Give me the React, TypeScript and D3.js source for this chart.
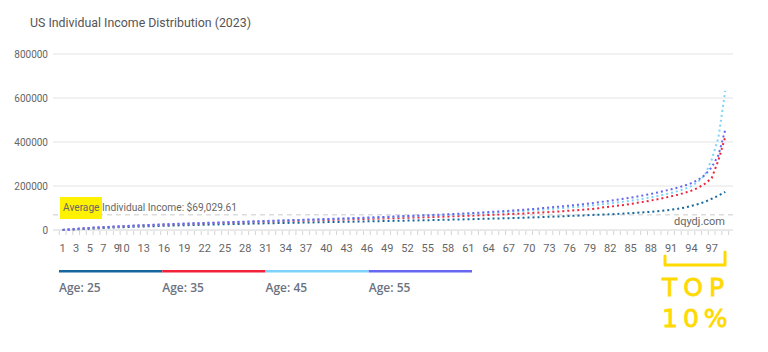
import React from "react";
import * as d3 from "d3";

const percentiles: number[] = Array.from({ length: 99 }, (_, i) => i + 1);

const xTickLabels: number[] = [1, 3, 5, 7, 9, 10, 13, 16, 19, 22, 25, 28, 31, 34, 37, 40, 43, 46, 49, 52, 55, 58, 61, 64, 67, 70, 73, 76, 79, 82, 85, 88, 91, 94, 97];

const yTicks: number[] = [0, 200000, 400000, 600000, 800000];

const age25: number[] = [
  300, 1500, 3000, 4500, 6000, 7500, 9000, 10500, 12000, 13000,
  14000, 15000, 16000, 17000, 18000, 19000, 20000, 20800, 21600, 22400,
  23200, 24000, 24800, 25500, 26200, 27000, 27700, 28400, 29000, 29700,
  30300, 31000, 31600, 32200, 32800, 33400, 34000, 34600, 35200, 35800,
  36300, 36900, 37500, 38000, 38600, 39200, 39800, 40300, 40900, 41500,
  42100, 42700, 43300, 44000, 44600, 45300, 46000, 46700, 47400, 48100,
  48900, 49700, 50500, 51300, 52100, 53000, 53900, 54800, 55800, 56800,
  57800, 58900, 60000, 61200, 62400, 63700, 65000, 66400, 67900, 69500,
  70000, 71500, 73000, 74800, 76600, 78500, 80600, 82800, 85500, 88500,
  92000, 96500, 102000, 110000, 118000, 128000, 142000, 156000, 173000,
];

const age35: number[] = [
  400, 2300, 4600, 6900, 8900, 10800, 12400, 13900, 15300, 16700,
  18000, 19300, 20600, 21800, 23000, 24100, 25200, 26300, 27300, 28300,
  29300, 30300, 31200, 32100, 33000, 33900, 34800, 35700, 36600, 37500,
  38300, 39100, 39900, 40700, 41500, 42300, 43100, 43900, 44700, 45500,
  46300, 47100, 47900, 48700, 49500, 50300, 51100, 52000, 52900, 53800,
  54700, 55600, 56500, 57400, 58400, 59400, 60400, 61400, 62400, 63500,
  64600, 65800, 67000, 68200, 69500, 70800, 72200, 73600, 75100, 76700,
  78300, 80000, 81800, 83700, 85700, 87800, 90000, 92300, 94800, 97400,
  103000, 106500, 110000, 114000, 118500, 123500, 128500, 134000, 140000, 146500,
  153000, 160500, 169000, 179000, 192000, 210000, 236000, 318000, 423000,
];

const age45: number[] = [
  400, 2400, 4800, 7200, 9200, 11200, 12800, 14300, 15800, 17200,
  18600, 20000, 21400, 22600, 23800, 25000, 26200, 27300, 28400, 29400,
  30400, 31400, 32400, 33400, 34400, 35400, 36300, 37200, 38100, 39000,
  40000, 41000, 42000, 43000, 44000, 45000, 46000, 47000, 48000, 49000,
  50000, 51000, 52000, 53000, 54000, 55000, 56000, 57000, 58200, 59400,
  60600, 61800, 63000, 64200, 65400, 66600, 67800, 69000, 70300, 71600,
  73000, 74500, 76000, 77600, 79200, 80900, 82600, 84400, 86300, 88300,
  90400, 92600, 94900, 97300, 99800, 102400, 105100, 108000, 111000, 114200,
  117600, 121200, 125000, 129000, 133300, 138000, 143000, 148500, 154500, 161000,
  168500, 177000, 187000, 199000, 220000, 250000, 320000, 420000, 632000,
];

const age55: number[] = [
  400, 2500, 5000, 7500, 9500, 11500, 13000, 14500, 16000, 17500,
  19000, 20500, 22000, 23200, 24400, 25600, 26800, 28000, 29000, 30000,
  31000, 32000, 33000, 34000, 35000, 36000, 37000, 38000, 39000, 40000,
  41000, 42000, 43000, 44000, 45000, 46000, 47000, 48000, 49000, 50000,
  51000, 52000, 53000, 54000, 55200, 56400, 57600, 58800, 60000, 61400,
  62800, 64000, 65200, 66400, 67600, 68900, 70200, 71500, 72900, 74300,
  76000, 77800, 79600, 81400, 83300, 85200, 87200, 89300, 91500, 94000,
  96500, 99500, 102000, 105000, 108000, 111000, 114000, 117500, 121000, 125000,
  129000, 133000, 137500, 142000, 147000, 152500, 158000, 164000, 170500, 177500,
  185000, 193000, 202000, 213000, 228000, 250000, 285000, 340000, 455000,
];

const seriesNames: string[] = ["Age: 25", "Age: 35", "Age: 45", "Age: 55"];
const seriesColors: string[] = ["#17679f", "#f0233a", "#7dd3fc", "#6767f2"];
const seriesValues: number[][] = [age25, age35, age45, age55];

const averageIncome = 69029.61;

const W = 768;
const H = 352;
const plotLeft = 53;
const plotRight = 733;
const plotTop = 54;
const plotBottom = 230;

export default function App() {
  const x = d3.scaleBand<number>().domain(percentiles).range([59.3, 728.6]).padding(0);
  const bw = x.bandwidth();
  const cx = (p: number) => (x(p) as number) + bw / 2;
  const y = d3.scaleLinear().domain([0, 800000]).range([plotBottom, plotTop]);

  const line = d3
    .line<number>()
    .x((_, i) => cx(percentiles[i]))
    .y((v) => y(v));

  const tickXs = percentiles.map((p) => x(p) as number).concat([(x(99) as number) + bw]);

  const legendX = d3.scaleBand<string>().domain(seriesNames).range([59, 472]).padding(0);

  const font = "Roboto, 'Open Sans', sans-serif";
  const yAvg = y(averageIncome);

  return (
    <svg
      width={W}
      height={H}
      style={{ position: "absolute", left: 0, top: 0, background: "#fff" }}
      fontFamily={font}
    >
      <text x={30} y={27} fontSize={13.5} fill="#555" textLength={221} lengthAdjust="spacingAndGlyphs">
        US Individual Income Distribution (2023)
      </text>

      {yTicks.map((t) =>
        t === 0 ? null : (
          <line key={"g" + t} x1={plotLeft} x2={plotRight} y1={y(t)} y2={y(t)} stroke="#e3e3e3" strokeWidth={1} />
        )
      )}
      {yTicks.map((t) => (
        <text key={"yl" + t} x={48} y={y(t)} dy="0.35em" textAnchor="end" fontSize={10} fill="#666">
          {t}
        </text>
      ))}

      {/* x axis */}
      <line x1={plotLeft} x2={plotRight} y1={plotBottom} y2={plotBottom} stroke="#d4d4d4" strokeWidth={1} />
      {tickXs.map((tx, i) => (
        <line key={"t" + i} x1={tx} x2={tx} y1={plotBottom + 1} y2={plotBottom + 5} stroke="#d4d4d4" strokeWidth={1} />
      ))}
      {xTickLabels.map((p) => (
        <text key={"xl" + p} x={cx(p)} y={248} dy="0.35em" textAnchor="middle" fontSize={11} fill="#666">
          {p}
        </text>
      ))}

      {/* average line */}
      <line x1={plotLeft} x2={plotRight} y1={yAvg} y2={yAvg} stroke="#dcdcdc" strokeWidth={1.5} strokeDasharray="5 4" />
      <rect x={60} y={197} width={42} height={22} fill="#fff200" />
      <text x={63} y={207} dy="0.35em" fontSize={11} fill="#666" textLength={174} lengthAdjust="spacingAndGlyphs">
        Average Individual Income: $69,029.61
      </text>
      <text x={725} y={221} dy="0.35em" textAnchor="end" fontSize={11} fill="#666">
        dqydj.com
      </text>

      {/* series */}
      {seriesValues.map((vals, si) => (
        <path
          key={"s" + si}
          d={line(vals) || ""}
          fill="none"
          stroke={seriesColors[si]}
          strokeWidth={2}
          strokeDasharray="2 3"
        />
      ))}

      {/* legend */}
      {seriesNames.map((n, i) => (
        <g key={"lg" + i}>
          <rect x={legendX(n) as number} y={270} width={legendX.bandwidth()} height={2.5} fill={seriesColors[i]} />
          <text
            x={legendX(n) as number}
            y={288}
            dy="0.35em"
            fontSize={12}
            fontWeight={600}
            fill="#6b7280"
            fontFamily="'Open Sans', sans-serif"
          >
            {n}
          </text>
        </g>
      ))}

      {/* hand-drawn annotation */}
      <path
        d="M665,256 L665,265 L725,265 L725,252"
        fill="none"
        stroke="#ffd900"
        strokeWidth={3}
        strokeLinecap="round"
        strokeLinejoin="round"
      />
      <text
        x={662}
        y={296}
        fontSize={25}
        fill="#ffd900"
        stroke="#ffd900"
        strokeWidth={0.8}
        letterSpacing={6}
        fontFamily="'DejaVu Sans', sans-serif"
      >
        TOP
      </text>
      <text
        x={662}
        y={327}
        fontSize={25}
        fill="#ffd900"
        stroke="#ffd900"
        strokeWidth={0.8}
        letterSpacing={5}
        fontFamily="'DejaVu Sans', sans-serif"
      >
        10%
      </text>
    </svg>
  );
}
